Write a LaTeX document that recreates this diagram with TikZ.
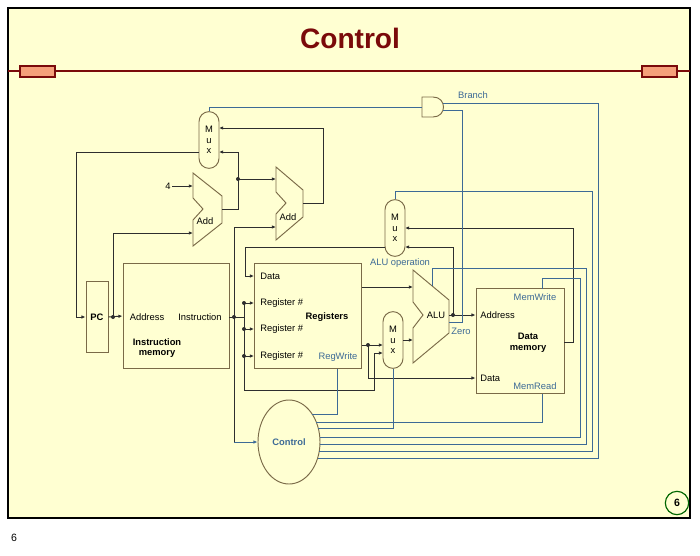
\documentclass[tikz,border=0pt]{standalone}
\usepackage{fontspec}
\setmainfont{Liberation Sans}
\usetikzlibrary{arrows.meta,shapes.geometric}
\definecolor{slide}{HTML}{FFFFD2}
\definecolor{unit}{HTML}{7A6A48}
\definecolor{wire}{HTML}{2E2E2E}
\definecolor{ctrl}{HTML}{3D6A96}
\definecolor{barred}{HTML}{7A0A0A}
\definecolor{tab}{HTML}{F5A07A}
\tikzset{
  box/.style={draw=unit,thick,rectangle},
  mux/.style={draw=unit,thick,rectangle,rounded corners=8.5pt,minimum width=0.6cm,minimum height=1.7cm,inner sep=0pt,align=center,font=\fontsize{8}{9}\selectfont},
  lbl/.style={font=\fontsize{8}{9}\selectfont,inner sep=1pt},
  blbl/.style={font=\fontsize{8}{9}\selectfont\bfseries,inner sep=1pt,align=center},
  clbl/.style={lbl,text=ctrl},
  w/.style={draw=wire,thick},
  c/.style={draw=ctrl,thick},
  arr/.style={-{Latex[length=3.5pt,width=3pt]}},
}
\newcommand{\jdot}[1]{\fill[wire] (#1) circle (2);}
\begin{document}
\begin{tikzpicture}[x=0.03cm,y=-0.03cm]
\useasboundingbox (0,0) rectangle (700,555);

% slide
\draw[fill=slide,line width=1.2pt] (8,8) rectangle (690,518);
\node[font=\fontsize{24}{26}\selectfont\bfseries,text=barred] (title) at (350,38) {Control};
\draw[barred,line width=2pt] (8,71) -- (690,71);
\draw[barred,fill=tab,line width=1pt] (20,66) rectangle (55,77);
\draw[barred,fill=tab,line width=1pt] (642,66) rectangle (677,77);
\node[draw=green!40!black,line width=1pt,circle,minimum size=0.7cm,font=\small\bfseries] (pg) at (677,503) {6};
\node[font=\small] (num) at (14,538) {6};

% units
\node[box,minimum width=0.66cm,minimum height=2.13cm] (pc) at (97,317) {};
\node[blbl] at (pc) {PC};
\node[box,minimum width=3.18cm,minimum height=3.15cm] (im) at (176,316) {};
\node[lbl] (imaddr) at (147,317) {Address};
\node[lbl] (iminst) at (200,317) {Instruction};
\node[blbl] at (157,348) {Instruction\\memory};
\node[box,minimum width=3.21cm,minimum height=3.15cm] (reg) at (308,316) {};
\node[lbl,anchor=west] at (259,276) {Data};
\node[lbl,anchor=west] at (259,303) {Register \#};
\node[lbl,anchor=west] at (259,329) {Register \#};
\node[lbl,anchor=west] at (259,356) {Register \#};
\node[blbl] at (327,317) {Registers};
\node[clbl] at (338,357) {RegWrite};
\node[box,minimum width=2.64cm,minimum height=3.15cm] (dm) at (520,341) {};
\node[clbl] at (535,297) {MemWrite};
\node[lbl,anchor=west] at (479,315) {Address};
\node[blbl] at (528,343) {Data\\memory};
\node[lbl,anchor=west] at (479,378) {Data};
\node[clbl] at (535,386) {MemRead};
\node[draw=unit,thick,ellipse,minimum width=1.86cm,minimum height=2.52cm,font=\fontsize{8}{9}\selectfont\bfseries,text=ctrl] (ctl) at (289,442) {Control};

\node[mux] (pcmux) at (209,140) {M\\u\\x};
\node[mux] (wbmux) at (395,228) {M\\u\\x};
\node[mux] (alumux) at (393,340) {M\\u\\x};

% adders, ALU, AND gate
\draw[unit,thick] (193,173) -- (222,196) -- (222,223) -- (193,246) -- (193,220) -- (203,209) -- (193,198) -- cycle;
\node[lbl] (add1) at (205,221) {Add};
\draw[unit,thick] (276,167) -- (303,190) -- (303,217) -- (276,240) -- (276,214) -- (286,203) -- (276,192) -- cycle;
\node[lbl] (add2) at (288,217) {Add};
\draw[unit,thick] (413,270) -- (449,300) -- (449,333) -- (413,363) -- (413,328) -- (423,315) -- (413,302) -- cycle;
\node[lbl] (alu) at (436,315) {ALU};
\node[clbl] at (461,331) {Zero};
\node[clbl] at (400,263) {ALU operation};
\draw[unit,thick] (422,97) -- (433,97) .. controls (447,97) and (447,117) .. (433,117) -- (422,117) -- cycle;
\node[clbl] at (473,95) {Branch};

% datapath wires
\node[lbl] (four) at (168,186) {4};
\draw[w,arr] (four) -- (193,186);
\draw[w,arr] (pcmux.west |- 0,152) -- (76,152) |- (pc.west);
\jdot{113,317}
\draw[w,arr] (pc.east) -- (im.west);
\draw[w,arr] (113,317) |- (193,233);
\draw[w] (222,209) -| (238,179);
\jdot{238,179}
\draw[w,arr] (238,179) -- (276,179);
\draw[w,arr] (238,179) |- (219,152);
\draw[w,arr] (303,203) -| (323,128) -- (219,128);
\jdot{234,317}
\draw[w] (im.east |- 0,317) -- (244,317);
\draw[w,arr] (234,227) -- (276,227);
\draw[w] (234,227) -- (234,442);
\draw[c,arr] (234,442) -- (ctl.west);
\foreach \y in {303,329,356} {
  \jdot{244,\y}
  \draw[w,arr] (244,\y) -- (reg.west |- 0,\y);
}
\draw[w] (244,303) -- (244,390) -| (374,353);
\draw[w,arr] (374,353) -- (383,353);
\draw[w,arr] (385,247) -| (245,276) -- (reg.west |- 0,276);
\draw[w,arr] (reg.east |- 0,287) -- (413,287);
\jdot{368,345}
\draw[w,arr] (reg.east |- 0,345) -- (383,345);
\draw[w,arr] (368,345) |- (dm.west |- 0,378);
\draw[w,arr] (403,340) -- (413,340);
\jdot{453,315}
\draw[w,arr] (449,315) -- (dm.west |- 0,315);
\draw[w,arr] (453,315) |- (405,247);
\draw[w,arr] (dm.east |- 0,342) -| (573,228) -- (405,228);

% control wires
\draw[c] (449,322) -| (462,110) -- (443,110);
\draw[c] (422,107) -| (pcmux.north);
\draw[c] (443,103) -| (598,458) -- (318,458);
\draw[c] (wbmux.north) |- (592,191) |- (319,451);
\draw[c] (432,286) |- (586,268) |- (320,444);
\draw[c] (542,289) |- (580,278) |- (320,437);
\draw[c] (alumux.south) |- (318,428);
\draw[c] (542,394) |- (316,422);
\draw[c] (337,369) |- (312,414);
\end{tikzpicture}
\end{document}
